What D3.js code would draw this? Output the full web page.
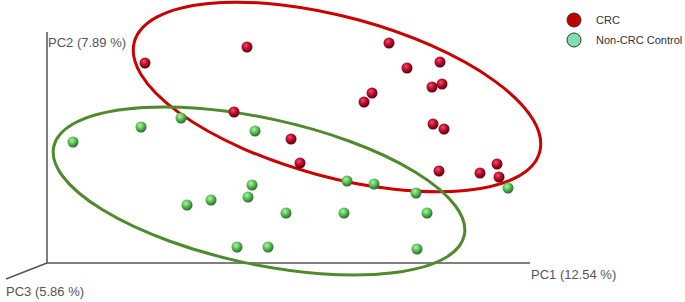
<!DOCTYPE html>
<html>
<head>
<meta charset="utf-8">
<script src="https://d3js.org/d3.v7.min.js"></script>
<style>
  body { margin: 0; background: #fff; }
  text { font-family: "Liberation Sans", Arial, sans-serif; }
</style>
</head>
<body>
<div id="chart"></div>
<script>
var width = 685,
    height = 302;

// projected PCoA coordinates (PC1 across, PC2 up, measured from the axis origin)
var crcPoints = [
    [98, 200], [200, 216], [342, 220], [360, 195], [393, 201], [385, 176],
    [395, 179], [325, 170], [317, 161], [386, 139], [397, 134], [187, 151],
    [244, 124], [253, 100], [392, 92], [433, 90], [450, 99], [452, 86]
];
var controlPoints = [
    [26, 121], [94, 136], [134, 145], [208, 132], [205, 78], [201, 66],
    [164, 63], [140, 58], [239, 50], [297, 50], [190, 16], [221, 16],
    [300, 82], [327, 79], [369, 70], [461, 75], [380, 50], [370, 14]
];
// confidence ellipses: centre x, centre y, semi-axis a, semi-axis b, tilt (deg)
var crcEllipse = [290, 166, 210, 80, 15.2];
var controlEllipse = [212, 72, 210, 73, 12.2];

var axisLabels = ["PC1 (12.54 %)", "PC2 (7.89 %)", "PC3 (5.86 %)"];
var groups = ["CRC", "Non-CRC Control"];

var x = d3.scaleLinear().domain([0, 483]).range([47, 530]);
var y = d3.scaleLinear().domain([0, 231]).range([263, 32]);

var svg = d3.select("#chart").append("svg")
    .attr("width", width)
    .attr("height", height);

var defs = svg.append("defs");
function ballGradient(id, light, mid, dark) {
    var g = defs.append("radialGradient")
        .attr("id", id)
        .attr("cx", "40%").attr("cy", "35%").attr("r", "65%");
    g.append("stop").attr("offset", "0%").attr("stop-color", light);
    g.append("stop").attr("offset", "45%").attr("stop-color", mid);
    g.append("stop").attr("offset", "100%").attr("stop-color", dark);
}
ballGradient("redBall", "#f0506a", "#c0102e", "#5a0010");
ballGradient("greenBall", "#b8f0a8", "#5cc85a", "#2a6a2a");

// axes
var axisColor = "#555";
svg.append("line")
    .attr("x1", x(0)).attr("y1", y(0)).attr("x2", x(0)).attr("y2", y(231))
    .attr("stroke", axisColor).attr("stroke-width", 1.5);
svg.append("line")
    .attr("x1", x(0)).attr("y1", y(0)).attr("x2", x(483)).attr("y2", y(0))
    .attr("stroke", axisColor).attr("stroke-width", 1.5);
svg.append("line")
    .attr("x1", x(0)).attr("y1", y(0)).attr("x2", x(-41)).attr("y2", y(-16))
    .attr("stroke", axisColor).attr("stroke-width", 1.5);

svg.append("text").attr("x", x(484)).attr("y", 279)
    .attr("font-size", 13).attr("fill", axisColor).text(axisLabels[0]);
svg.append("text").attr("x", x(1)).attr("y", 47)
    .attr("font-size", 13).attr("fill", axisColor).text(axisLabels[1]);
svg.append("text").attr("x", 6).attr("y", 296)
    .attr("font-size", 13).attr("fill", axisColor).text(axisLabels[2]);

// ellipses
function drawEllipse(e, color) {
    svg.append("ellipse")
        .attr("transform", "translate(" + x(e[0]) + "," + y(e[1]) + ") rotate(" + e[4] + ")")
        .attr("rx", e[2]).attr("ry", e[3])
        .attr("fill", "none")
        .attr("stroke", color)
        .attr("stroke-width", 3);
}
drawEllipse(crcEllipse, "#cc0000");
drawEllipse(controlEllipse, "#4f8a2c");

// points
svg.selectAll(".crc").data(crcPoints).enter().append("circle")
    .attr("class", "crc")
    .attr("cx", function(d) { return x(d[0]); })
    .attr("cy", function(d) { return y(d[1]); })
    .attr("r", 5.5)
    .attr("fill", "url(#redBall)");
svg.selectAll(".ctl").data(controlPoints).enter().append("circle")
    .attr("class", "ctl")
    .attr("cx", function(d) { return x(d[0]); })
    .attr("cy", function(d) { return y(d[1]); })
    .attr("r", 5.5)
    .attr("fill", "url(#greenBall)");

// legend
var legendFill = ["#c00000", "#7fe0ad"];
var legend = svg.selectAll(".legend").data(groups).enter().append("g")
    .attr("class", "legend")
    .attr("transform", function(d, i) { return "translate(574," + (20 + i * 20) + ")"; });
legend.append("circle")
    .attr("r", 7)
    .attr("fill", function(d, i) { return legendFill[i]; })
    .attr("stroke", "#333")
    .attr("stroke-width", 1);
legend.append("text")
    .attr("x", 22).attr("dy", "0.35em")
    .attr("font-size", 11).attr("fill", "#333")
    .text(function(d) { return d; });
</script>
</body>
</html>
